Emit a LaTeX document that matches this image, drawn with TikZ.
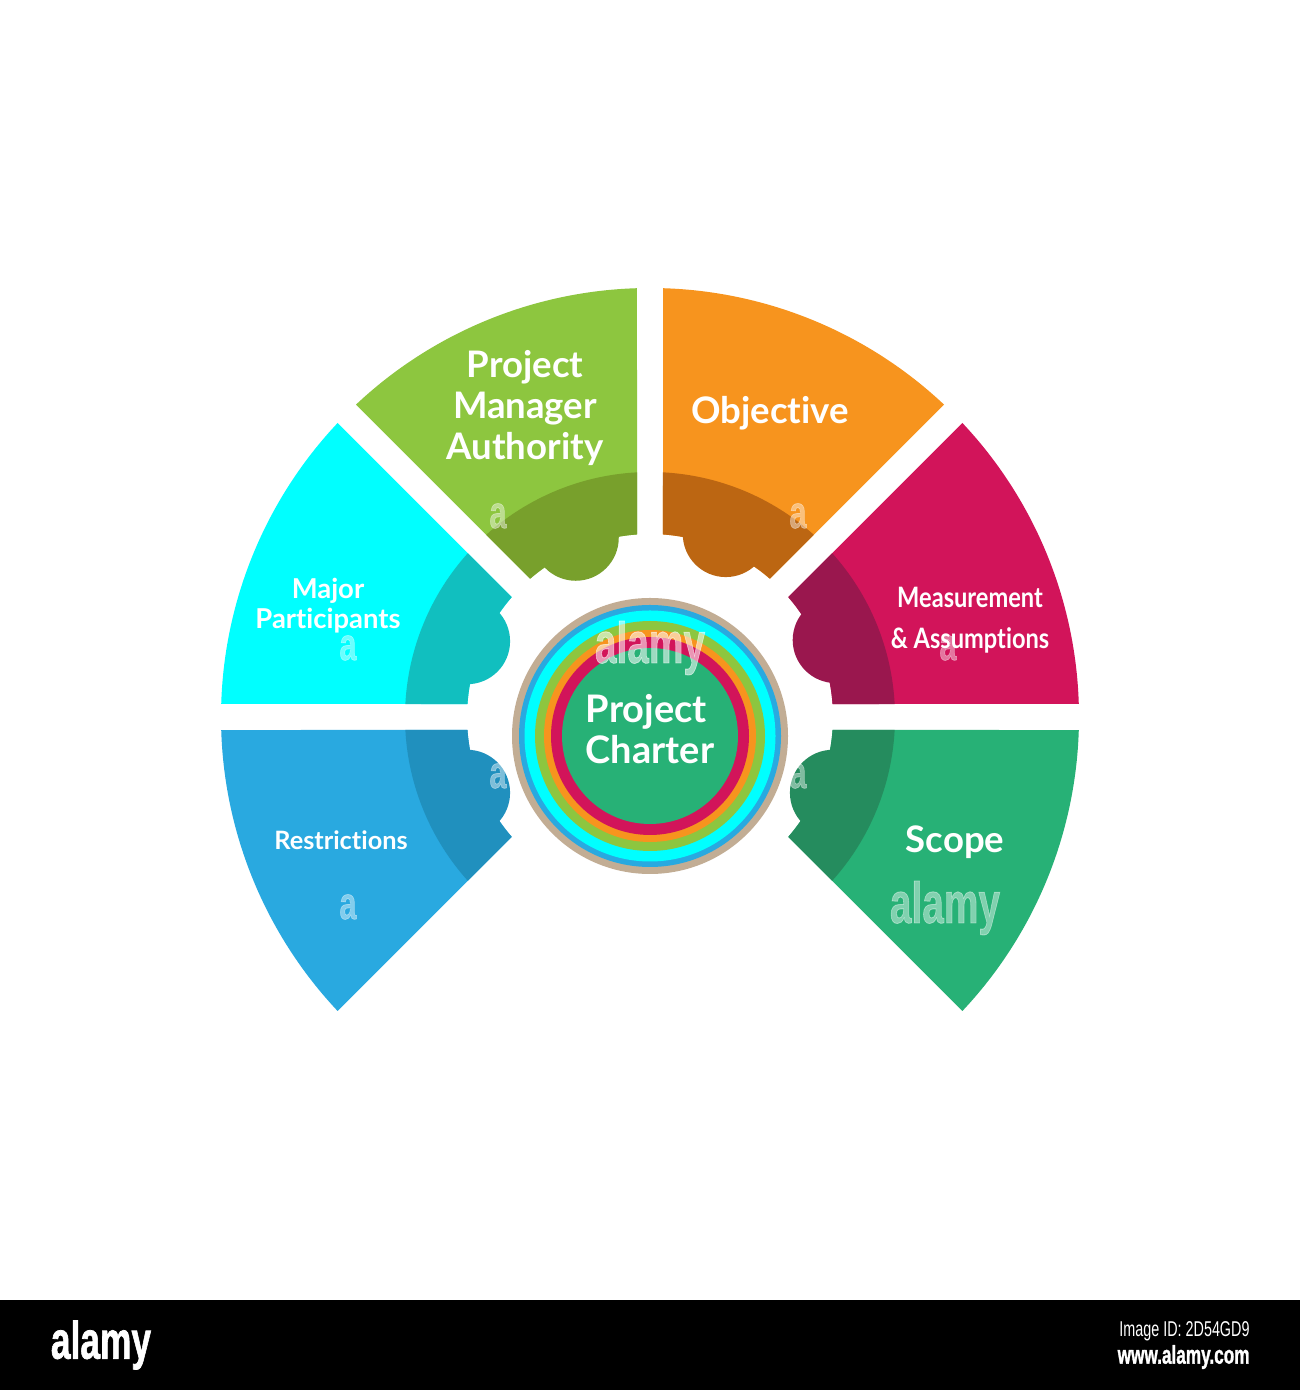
\documentclass[tikz,border=0pt]{standalone}
\usepackage{fontspec}
\setmainfont{Lato}[Ligatures=NoCommon]
\newfontfamily\markfont{Liberation Sans}[BoldFeatures={FakeBold=1.5}]
\definecolor{lgreen}{HTML}{8DC63F}
\definecolor{dgreen}{HTML}{78A02C}
\definecolor{lorange}{HTML}{F7941E}
\definecolor{dorange}{HTML}{BC6612}
\definecolor{lcrimson}{HTML}{D2145A}
\definecolor{dcrimson}{HTML}{9A174E}
\definecolor{lemerald}{HTML}{27B176}
\definecolor{demerald}{HTML}{258C5E}
\definecolor{lblue}{HTML}{29A9E0}
\definecolor{dblue}{HTML}{2090BE}
\definecolor{lcyan}{HTML}{00FFFF}
\definecolor{dcyan}{HTML}{11BFBF}
\definecolor{tanring}{HTML}{C2AD94}

\begin{document}
\begin{tikzpicture}[x=0.1mm,y=0.1mm,
    biglabel/.style={text=white,font=\fontsize{10.4}{11.7}\selectfont\bfseries,align=center},
    chartlabel/.style={text=white,font=\fontsize{10.8}{11.7}\selectfont\bfseries,align=left},
    narrowlabel/.style={text=white,font=\fontsize{8}{11.8}\selectfont\bfseries,align=center,xscale=.84,transform shape},
    smalllabel/.style={text=white,font=\fontsize{7.8}{8.6}\selectfont\bfseries,align=center},
    wmark/.style={text=white,text opacity=.42,font=\markfont\fontsize{16.5}{16.5}\selectfont\bfseries,xscale=.67,transform shape},
    amark/.style={text=white,text opacity=.42,font=\markfont\fontsize{13}{13}\selectfont\bfseries,xscale=.67,transform shape},
    footmark/.style={text=white,transform shape,xscale=.67,inner sep=0pt}]
  \useasboundingbox (0,0) rectangle (1300,1390);
  \fill[white] (0,0) rectangle (1300,1390);
  \fill[black] (0,0) rectangle (1300,90);
  \begin{scope}[shift={(650,673)}]
    \foreach \ang/\bump/\lite/\dark in {22.5/201/lcrimson/dcrimson,67.5/198/lorange/dorange,112.5/194/lgreen/dgreen,157.5/198/lcyan/dcyan,202.5/198/lblue/dblue,-22.5/198/lemerald/demerald}{
      \fill[\lite] (\ang-18.43:183) -- (\ang-20.76:429)
        arc[start angle=\ang-20.76,end angle=\ang+20.76,radius=429]
        -- (\ang+18.43:183)
        arc[start angle=\ang+18.43,end angle=\ang-18.43,radius=183] -- cycle;
      \fill[\dark] (\ang-18.43:183) -- (\ang-19.46:245)
        arc[start angle=\ang-19.46,end angle=\ang+19.46,radius=245]
        -- (\ang+18.43:183)
        arc[start angle=\ang+18.43,end angle=\ang-18.43,radius=183] -- cycle;
      \fill[\dark] (\ang:\bump) circle[radius=43];
    }
  \end{scope}
  \coordinate (chart) at (650,654);
  \foreach \rad/\col in {138/tanring,131/lblue,125.5/lcyan,115/lgreen,106/lorange,99/lcrimson,88/lemerald}
    \fill[\col] (chart) circle[radius=\rad];
  \node[biglabel] (authority) at (525,982) {Project\\Manager\\Authority};
  \node[biglabel] (objective) at (770,977) {Objective};
  \node[narrowlabel] (measurement) at (970,770) {Measurement\\\& Assumptions};
  \node[smalllabel] (participants) at (328,784) {Major\\Participants};
  \node[smalllabel,font=\fontsize{7.2}{8.6}\selectfont\bfseries] (restrictions) at (341,550) {Restrictions};
  \node[biglabel] (scope) at (955,548) {Scope};
  \node[chartlabel] (charter) at (650,661) {Project\\Charter};
  \node[wmark,text opacity=.55] (markcentre) at (650,742) {alamy};
  \node[wmark] (markscope) at (945,482) {alamy};
  \foreach \i/\xa/\ya in {1/498/874,2/798/874,3/348/742,4/948/742,5/498/614,6/798/614,7/348/483}
    \node[amark] (marka\i) at (\xa,\ya) {a};
  \node[footmark,font=\markfont\fontsize{15}{15}\selectfont\bfseries] (footlogo) at (101,45) {alamy};
  \node[footmark,anchor=east,font=\markfont\fontsize{6.1}{7}\selectfont] (footid) at (1250,59) {Image ID: 2D54GD9};
  \node[footmark,anchor=east,font=\markfont\fontsize{7.3}{8}\selectfont\bfseries] (footurl) at (1250,33) {www.alamy.com};
\end{tikzpicture}
\end{document}
